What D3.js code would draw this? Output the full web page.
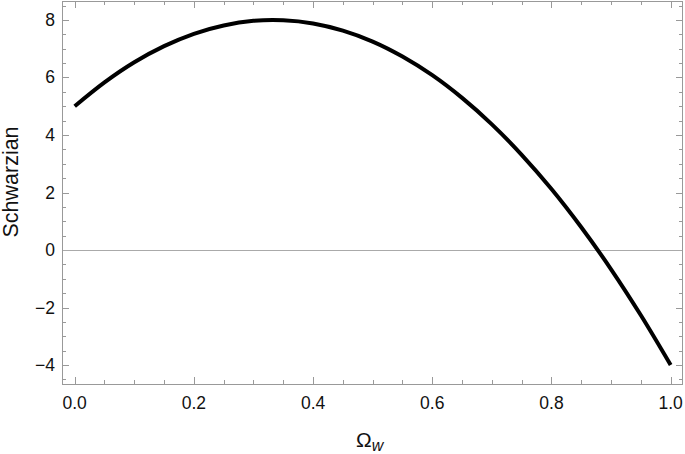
<!DOCTYPE html>
<html lang="en">
<head>
  <meta charset="UTF-8">
  <title>Schwarzian</title>
  <script src="https://d3js.org/d3.v7.min.js"></script>
  <style type="text/css">
    body { margin: 0; background: #fff; }
    svg { display: block; font-family: 'Liberation Sans', Arial, sans-serif; }
  </style>
</head>
<body>
<div id="chart"></div>
<script>
  // values
  var omegaVals = [0, 0.05, 0.1, 0.15, 0.2, 0.25, 0.3, 0.35, 0.4, 0.45, 0.5,
    0.55, 0.6, 0.65, 0.7, 0.75, 0.8, 0.85, 0.9, 0.95, 1.0];
  var schwarzianVals = [5.00, 5.83, 6.53, 7.09, 7.52, 7.81, 7.97, 7.99, 7.88, 7.63, 7.25,
    6.73, 6.08, 5.29, 4.37, 3.31, 2.12, 0.79, -0.67, -2.27, -4.00];
  var xTicks = [0, 0.2, 0.4, 0.6, 0.8, 1.0];
  var yTicks = [-4, -2, 0, 2, 4, 6, 8];

  var WIDTH = 685, HEIGHT = 454,
    LEFT = 62, RIGHT = 683, TOP = 1, BOTTOM = 384,
    FRAME = '#999';

  var svg = d3.select('#chart').append('svg')
    .attr('width', WIDTH)
    .attr('height', HEIGHT);

  var xScale = d3.scaleLinear().domain([-0.0213, 1.0207]).range([LEFT, RIGHT]);
  var yScale = d3.scaleLinear().domain([-4.66, 8.66]).range([BOTTOM, TOP]);

  // minor ticks
  var xMinor = d3.range(0, 21).map(function (i) { return i * 0.05; });
  var yMinor = d3.range(-9, 18).map(function (i) { return i * 0.5; });

  var ticks = svg.append('g').attr('stroke', FRAME).attr('stroke-width', 1);

  xMinor.forEach(function (v) {
    var major = Math.abs(v * 5 - Math.round(v * 5)) < 1e-6;
    var len = major ? 7 : 4;
    var x = Math.round(xScale(v)) + 0.5;
    ticks.append('line').attr('x1', x).attr('x2', x)
      .attr('y1', BOTTOM).attr('y2', BOTTOM - len);
    ticks.append('line').attr('x1', x).attr('x2', x)
      .attr('y1', TOP).attr('y2', TOP + len);
  });
  yMinor.forEach(function (v) {
    var major = Math.abs(v / 2 - Math.round(v / 2)) < 1e-6;
    var len = major ? 7 : 4;
    var y = Math.round(yScale(v)) + 0.5;
    ticks.append('line').attr('y1', y).attr('y2', y)
      .attr('x1', LEFT).attr('x2', LEFT + len);
    ticks.append('line').attr('y1', y).attr('y2', y)
      .attr('x1', RIGHT).attr('x2', RIGHT - len);
  });

  // zero line
  svg.append('line')
    .attr('x1', LEFT).attr('x2', RIGHT)
    .attr('y1', Math.round(yScale(0)) + 0.5).attr('y2', Math.round(yScale(0)) + 0.5)
    .attr('stroke', '#aaa').attr('stroke-width', 1);

  // frame
  svg.append('rect')
    .attr('x', LEFT + 0.5).attr('y', TOP + 0.5)
    .attr('width', RIGHT - LEFT - 1).attr('height', BOTTOM - TOP)
    .attr('fill', 'none').attr('stroke', FRAME).attr('stroke-width', 1);

  // tick labels
  svg.append('g').selectAll('text')
    .data(xTicks)
    .enter()
    .append('text')
    .attr('x', function (d) { return xScale(d); })
    .attr('y', 409)
    .attr('text-anchor', 'middle')
    .attr('font-size', 17.5)
    .attr('fill', '#111')
    .text(function (d) { return d.toFixed(1); });

  svg.append('g').selectAll('text')
    .data(yTicks)
    .enter()
    .append('text')
    .attr('x', 55)
    .attr('y', function (d) { return yScale(d) + 6; })
    .attr('text-anchor', 'end')
    .attr('font-size', 17.5)
    .attr('fill', '#111')
    .text(function (d) { return d < 0 ? '\u2212' + Math.abs(d) : d; });

  // curve
  var line = d3.line()
    .x(function (d, i) { return xScale(omegaVals[i]); })
    .y(function (d) { return yScale(d); })
    .curve(d3.curveCatmullRom);

  svg.append('path')
    .datum(schwarzianVals)
    .attr('d', line)
    .attr('fill', 'none')
    .attr('stroke', '#000')
    .attr('stroke-width', 4);

  // axis titles
  var xt = svg.append('text')
    .attr('x', 356)
    .attr('y', 447)
    .attr('font-size', 21)
    .attr('fill', '#111');
  xt.append('tspan').text('\u03A9');
  xt.append('tspan').attr('font-style', 'italic').attr('font-size', 16).attr('dy', 4).text('w');

  svg.append('text')
    .attr('transform', 'translate(18,' + 182 + ') rotate(-90)')
    .attr('text-anchor', 'middle')
    .attr('font-size', 21.5)
    .attr('fill', '#111')
    .text('Schwarzian');
</script>
</body>
</html>
